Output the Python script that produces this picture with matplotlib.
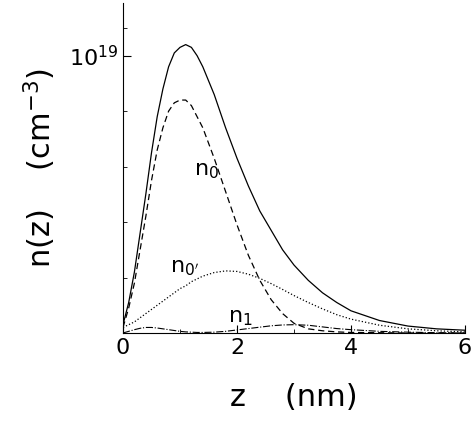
import matplotlib
matplotlib.use("Agg")
import matplotlib.pyplot as plt

z = [0, 0.1, 0.2, 0.3, 0.4, 0.5, 0.6, 0.7, 0.8, 0.9, 1.0, 1.1, 1.2, 1.3, 1.4, 1.6, 1.8, 2.0, 2.2, 2.4, 2.6, 2.8, 3.0, 3.25, 3.5, 3.75, 4.0, 4.5, 5.0, 5.5, 6.0]
n_total = [0.03, 0.11, 0.22, 0.36, 0.50, 0.65, 0.78, 0.88, 0.96, 1.01, 1.03, 1.04, 1.03, 1.00, 0.96, 0.86, 0.74, 0.63, 0.53, 0.44, 0.37, 0.30, 0.245, 0.19, 0.145, 0.11, 0.08, 0.045, 0.025, 0.015, 0.01]
n0 = [0.02, 0.09, 0.18, 0.30, 0.42, 0.55, 0.66, 0.74, 0.80, 0.83, 0.84, 0.84, 0.82, 0.78, 0.74, 0.63, 0.51, 0.39, 0.28, 0.19, 0.12, 0.07, 0.035, 0.015, 0.008, 0.004, 0.002, 0.001, 0.0, 0.0, 0.0]
n0p = [0.02, 0.03, 0.04, 0.055, 0.07, 0.085, 0.10, 0.115, 0.13, 0.145, 0.16, 0.17, 0.185, 0.195, 0.205, 0.218, 0.224, 0.222, 0.212, 0.197, 0.178, 0.157, 0.135, 0.11, 0.087, 0.066, 0.05, 0.028, 0.015, 0.008, 0.004]
n1 = [0.0, 0.006, 0.012, 0.017, 0.02, 0.02, 0.018, 0.015, 0.012, 0.009, 0.006, 0.004, 0.003, 0.002, 0.002, 0.003, 0.006, 0.011, 0.016, 0.021, 0.026, 0.029, 0.03, 0.028, 0.022, 0.016, 0.012, 0.006, 0.003, 0.001, 0.0]

fig = plt.figure(figsize=(4.74, 4.24), dpi=100)
ax = fig.add_axes([123/474, 1-333/424, 342/474, 330/424])
ax.plot(z, n_total, 'k-', lw=0.9)
ax.plot(z, n0, 'k--', lw=0.9, dashes=(5, 3))
ax.plot(z, n0p, 'k:', lw=0.9)
ax.plot(z, n1, 'k-.', lw=0.8)
ax.set_xlim(0, 6)
ax.set_ylim(0, 1.19)
ax.set_xticks([0, 2, 4, 6])
ax.set_yticks([1.0])
ax.set_yticklabels([r'$10^{19}$'])
ax.set_yticks([0.2, 0.4, 0.6, 0.8, 1.1], minor=True)
ax.set_xticks([1, 3, 5], minor=True)
for s in ['top', 'right']:
    ax.spines[s].set_visible(False)
ax.tick_params(labelsize=16, direction='in', length=6)
ax.tick_params(which='minor', direction='in', length=3)
ax.text(1.25, 0.57, r'$\mathrm{n_0}$', fontsize=16)
ax.text(0.82, 0.22, r"$\mathrm{n_{0'}}$", fontsize=16)
ax.text(1.85, 0.04, r'$\mathrm{n_1}$', fontsize=16)
ax.set_xlabel('z    (nm)', fontsize=22, labelpad=18)
ax.set_ylabel(r'n(z)    (cm$^{-3}$)', fontsize=22, labelpad=8)
fig.savefig('out.png', dpi=100)
